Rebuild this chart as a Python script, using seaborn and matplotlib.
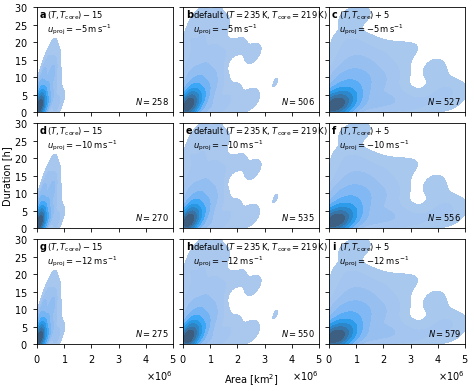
import numpy as np
import pandas as pd
import matplotlib
matplotlib.use("Agg")
import matplotlib.pyplot as plt
import seaborn as sns

plt.rcParams['font.family'] = ['DejaVu Sans']
plt.rcParams['axes.formatter.use_mathtext'] = True
plt.rcParams['font.size'] = 7
plt.rcParams['mathtext.fontset'] = 'dejavusans'

# ---- text content ----
panel_letters = list("abcdefghi")
threshold_labels = [r"$(T, T_\mathrm{core}) - 15$",
                    r"default ($T = 235\,\mathrm{K}$, $T_\mathrm{core} = 219\,\mathrm{K}$)",
                    r"$(T, T_\mathrm{core}) + 5$"]
u_proj = [-5, -10, -12]
n_counts = [258, 506, 527, 270, 535, 556, 275, 550, 579]
x_ticks = [0, 1, 2, 3, 4, 5]          # x 10^6 km^2
y_ticks = [0, 5, 10, 15, 20, 25, 30]  # h

# ---- data: area (10^6 km^2), duration (h), counts ----
area_m15 = [0.05, 0.12, 0.08, 0.22, 0.15, 0.35, 0.10, 0.30, 0.50, 0.65, 0.80, 0.20,
            0.45, 0.70, 0.85, 0.30, 0.55, 0.80, 0.40, 0.65, 0.80, 0.55, 0.70, 0.90,
            1.05, 0.75, 0.60, 0.65, 0.50]
dur_m15 = [0.7, 1.5, 3.0, 1.0, 4.5, 2.5, 7.0, 6.0, 4.0, 1.5, 5.0, 10.0,
           9.0, 8.0, 10.0, 13.0, 12.0, 13.0, 16.0, 16.0, 17.0, 19.5, 20.5, 3.0,
           5.5, 1.0, 10.0, 13.0, 15.0]
cnt_m15 = [40, 35, 25, 20, 18, 14, 10, 10, 8, 6, 4, 7,
           6, 4, 2, 5, 4, 2, 3, 3, 2, 2, 2, 2,
           1.5, 3, 4, 3, 3]

area_def = [0.08, 0.25, 0.15, 0.45, 0.30, 0.70, 0.50, 0.90, 0.20, 0.70, 1.10, 0.40,
            0.90, 1.30, 0.20, 0.70, 1.20, 1.60, 2.10, 2.60, 0.40, 0.90, 1.40,
            0.70, 1.30, 1.60, 1.40, 1.90, 2.50, 2.60, 1.50, 2.10, 1.00, 3.30, 3.50,
            3.20, 2.50]
dur_def = [1.0, 1.5, 3.0, 2.5, 5.0, 4.0, 8.0, 7.0, 10.0, 11.0, 10.0, 15.0,
           15.0, 14.0, 20.0, 20.0, 19.0, 18.0, 19.0, 17.0, 25.0, 25.0, 24.0,
           29.0, 29.0, 26.0, 8.0, 6.0, 5.0, 3.0, 2.0, 1.5, 1.0, 6.5, 10.5,
           20.0, 16.0]
cnt_def = [60, 50, 40, 30, 25, 18, 15, 10, 8, 8, 6, 6,
           5, 4, 4, 4, 3, 3, 3, 2.5, 3, 3, 2,
           2, 2, 1.5, 4, 3, 2, 2, 5, 3, 8, 1.6, 1.6,
           1.0, 1.5]

area_p5 = [0.08, 0.25, 0.15, 0.50, 0.30, 0.80, 0.60, 1.10, 0.30, 0.90, 1.40, 0.50,
           1.10, 1.70, 2.20, 0.50, 1.00, 1.50, 2.10, 2.70, 0.70, 1.10, 1.20,
           3.00, 2.50, 2.30, 2.60, 3.00, 3.50, 4.00, 4.50, 4.70, 4.30, 3.90,
           4.25, 2.70, 3.30, 2.00, 1.50, 2.50, 3.40, 1.90, 3.90, 4.80]
dur_p5 = [1.0, 1.5, 3.0, 2.5, 5.0, 4.0, 8.0, 7.0, 11.0, 11.0, 10.0, 16.0,
          15.0, 14.0, 12.0, 21.0, 20.0, 19.0, 18.0, 18.0, 27.0, 27.0, 29.5,
          29.5, 11.0, 7.0, 4.0, 2.0, 3.0, 5.0, 3.0, 6.0, 1.0, 11.5,
          7.5, 16.0, 19.0, 3.0, 2.0, 1.5, 0.8, 8.0, 15.0, 5.5]
cnt_p5 = [60, 50, 40, 30, 25, 20, 16, 12, 8, 10, 8, 6,
          7, 5, 4, 4, 4, 3, 3, 2, 3, 3, 1.5,
          1.0, 3, 4, 4, 3, 3, 3, 2, 2, 1.5, 4,
          3.5, 2, 1.5, 6, 8, 4, 2, 5, 2, 1.5]

column_data = [(area_m15, dur_m15, cnt_m15),
               (area_def, dur_def, cnt_def),
               (area_p5, dur_p5, cnt_p5)]
bandwidths = [0.5, 0.38, 0.38]

fig, axes = plt.subplots(3, 3, figsize=(4.74, 3.91), dpi=100, sharex=True, sharey=True)
fig.subplots_adjust(left=0.078, right=0.981, top=0.982, bottom=0.12,
                    wspace=0.0735, hspace=0.105)

for r in range(3):
    for c in range(3):
        ax = axes[r, c]
        a, d, w = column_data[c]
        df = pd.DataFrame({"area": np.array(a) * 1e6, "duration": d, "w": w})
        sns.kdeplot(data=df, x="area", y="duration", weights="w", fill=True,
                    bw_method=bandwidths[c], color="C0", ax=ax)
        ax.set_xlim(0, 5e6)
        ax.set_ylim(0, 30)
        ax.set_xticks([t * 1e6 for t in x_ticks])
        ax.set_yticks(y_ticks)
        ax.set_xlabel("")
        ax.set_ylabel("")
        ax.tick_params(labelsize=7, length=3, width=0.6)
        for s in ax.spines.values():
            s.set_linewidth(0.6)
        i = r * 3 + c
        ax.text(0.02, 0.975, panel_letters[i], transform=ax.transAxes,
                fontsize=7, fontweight='bold', va='top', ha='left')
        ax.text(0.075, 0.975, threshold_labels[c], transform=ax.transAxes,
                fontsize=6, va='top', ha='left')
        ax.text(0.075, 0.855, r"$u_\mathrm{proj} = %d\,\mathrm{m\,s^{-1}}$" % u_proj[r],
                transform=ax.transAxes, fontsize=6, va='top', ha='left')
        ax.text(0.97, 0.05, r"$N = %d$" % n_counts[i], transform=ax.transAxes,
                fontsize=6, va='bottom', ha='right')
        ax.label_outer()

fig.text(7 / 474, 1 - 176 / 391, "Duration [h]", rotation=90, va='center', ha='center', fontsize=7)
fig.text(251 / 474, 1 - 380 / 391, r"Area [km$^2$]", va='center', ha='center', fontsize=7)

fig.savefig("out.png", dpi=100)
